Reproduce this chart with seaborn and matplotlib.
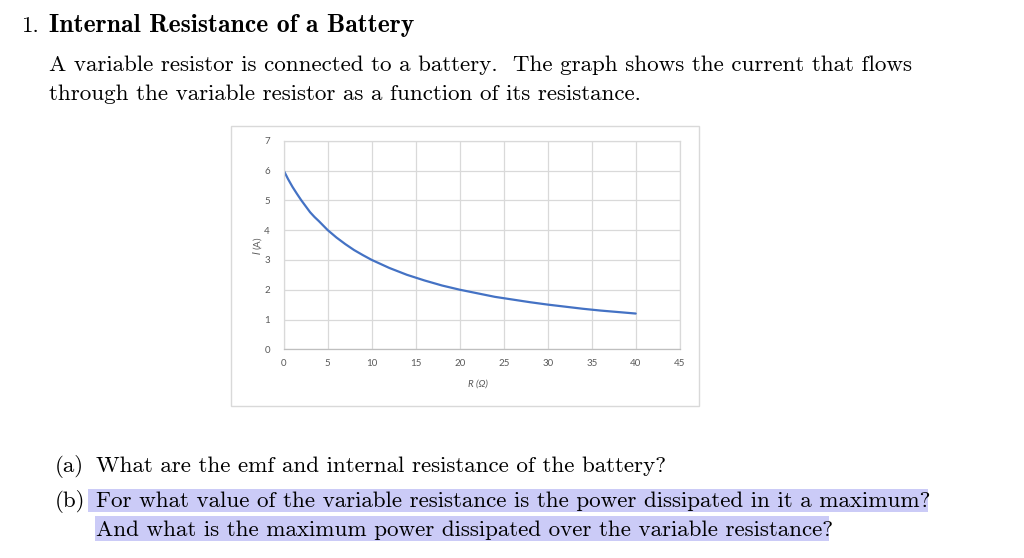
import matplotlib
matplotlib.use("Agg")
import matplotlib.pyplot as plt
import seaborn as sns
import pandas as pd
from matplotlib.patches import Rectangle

# ---- data ----
resistance = [0, 0.5, 1, 1.5, 2, 2.5, 3, 3.5, 4, 5, 6, 7, 8, 9, 10, 12, 14, 16,
              18, 20, 22, 24, 26, 28, 30, 32, 34, 36, 38, 40]
current = [6.0, 5.71, 5.45, 5.22, 5.0, 4.8, 4.6, 4.44, 4.3, 4.0, 3.75, 3.53,
           3.33, 3.16, 3.0, 2.73, 2.5, 2.31, 2.14, 2.0, 1.88, 1.76, 1.67,
           1.58, 1.5, 1.43, 1.36, 1.30, 1.25, 1.2]
x_ticks = [0, 5, 10, 15, 20, 25, 30, 35, 40, 45]
y_ticks = [0, 1, 2, 3, 4, 5, 6, 7]

title_num = "1."
title_text = "Internal Resistance of a Battery"
body_lines = ["A variable resistor is connected to a battery.  The graph shows the current that flows",
              "through the variable resistor as a function of its resistance."]
qa_label = "(a)"
qa_text = "What are the emf and internal resistance of the battery?"
qb_label = "(b)"
qb_lines = ["For what value of the variable resistance is the power dissipated in it a maximum?",
            "And what is the maximum power dissipated over the variable resistance?"]
x_label = "R (\u03a9)"
y_label_rest = " (A)"

df = pd.DataFrame({"R": resistance, "I": current})

sns.set_theme(style="white")
W, H = 1024, 558
fig = plt.figure(figsize=(W / 100, H / 100), dpi=100)
fig.patch.set_facecolor("white")


def fx(x):
    return x / W


def fy(y):
    return 1 - y / H


serif = "cmr10"
serif_bold = "cmb10"
body_size = 16.6
title_size = 18.5
txt_color = "#000000"

# ---- heading and body text ----
fig.text(fx(21), fy(32), title_num, family=serif, size=body_size, color=txt_color, va="baseline")
fig.text(fx(49), fy(32), title_text, family=serif_bold, size=title_size, color=txt_color, va="baseline")
fig.text(fx(49), fy(71), body_lines[0], family=serif, size=body_size, color=txt_color, va="baseline")
fig.text(fx(49), fy(100), body_lines[1], family=serif, size=body_size, color=txt_color, va="baseline")

# ---- questions ----
hl = "#cbcbf7"
fig.patches.append(Rectangle((fx(88), fy(512)), fx(928) - fx(88), fy(489) - fy(512),
                             transform=fig.transFigure, facecolor=hl, edgecolor="none", zorder=-2))
fig.patches.append(Rectangle((fx(95), fy(541)), fx(829) - fx(95), fy(516) - fy(541),
                             transform=fig.transFigure, facecolor=hl, edgecolor="none", zorder=-2))

fig.text(fx(55), fy(472), qa_label, family=serif, size=body_size, color=txt_color, va="baseline")
fig.text(fx(96), fy(472), qa_text, family=serif, size=body_size, color=txt_color, va="baseline")
fig.text(fx(55), fy(507), qb_label, family=serif, size=body_size, color=txt_color, va="baseline")
fig.text(fx(96), fy(507), qb_lines[0], family=serif, size=body_size, color=txt_color, va="baseline")
fig.text(fx(96), fy(536), qb_lines[1], family=serif, size=body_size, color=txt_color, va="baseline")

# ---- chart frame ----
fig.patches.append(Rectangle((fx(231), fy(406)), fx(699) - fx(231), fy(126) - fy(406),
                             transform=fig.transFigure, facecolor="none", edgecolor="#d9d9d9",
                             linewidth=1.0, zorder=-1))

ax_l, ax_r, ax_t, ax_b = 283.7, 679.7, 140.7, 349.3
ax = fig.add_axes([fx(ax_l), fy(ax_b), fx(ax_r) - fx(ax_l), fy(ax_t) - fy(ax_b)], zorder=2)
ax.set_facecolor("none")

sns.lineplot(data=df, x="R", y="I", ax=ax, color="#4472c4", linewidth=1.6)

ax.set_xlim(0, 45)
ax.set_ylim(0, 7)
ax.set_xticks(x_ticks)
ax.set_yticks(y_ticks)
ax.grid(True, color="#d9d9d9", linewidth=0.9)
ax.set_axisbelow(True)
for side in ["top", "right", "left"]:
    ax.spines[side].set_color("#d9d9d9")
    ax.spines[side].set_linewidth(0.9)
ax.spines["bottom"].set_color("#bfbfbf")
ax.spines["bottom"].set_linewidth(0.9)
ax.tick_params(axis="both", length=0, labelsize=7, labelcolor="#595959")
ax.tick_params(axis="y", pad=10)
ax.tick_params(axis="x", pad=7)
for lab in ax.get_xticklabels() + ax.get_yticklabels():
    lab.set_family("Lato")
ax.set_xlabel("")
ax.set_ylabel("")

fig.text(fx(478), fy(384), x_label, family="Lato", size=7, color="#595959",
         ha="center", va="center", style="italic")
fig.text(fx(258), fy(246), "$\\mathit{I}$" + y_label_rest, family="Lato", size=7, color="#595959",
         ha="center", va="center", rotation=90)

fig.savefig("out.png", dpi=100, facecolor="white")
